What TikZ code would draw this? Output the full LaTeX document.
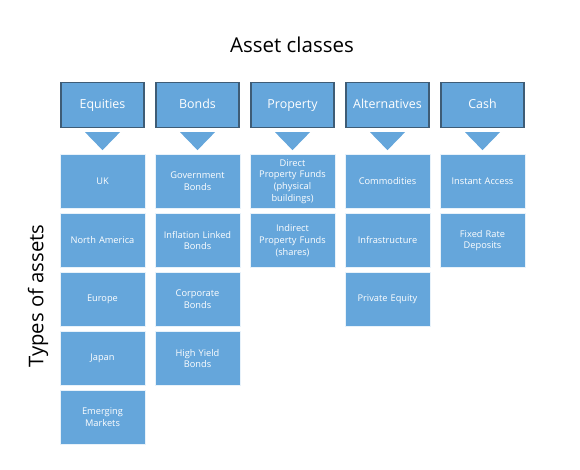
\documentclass[tikz,border=0pt]{standalone}
\usepackage{fontspec}
\setmainfont{Open Sans}
\usetikzlibrary{calc}

\definecolor{boxblue}{RGB}{101,166,219}
\definecolor{headline}{RGB}{62,92,118}

\tikzset{
  classbox/.style={draw=headline, line width=1.4pt, fill=boxblue, text=white,
    minimum width=2.5cm, minimum height=1.34cm, inner sep=0pt,
    text height=1.6ex, text depth=0.45ex,
    font=\fontsize{10.6}{12}\selectfont},
  assetbox/.style={draw=white!85!boxblue, line width=0.4pt, fill=boxblue, text=white,
    minimum width=2.55cm, minimum height=1.62cm, inner sep=0pt, align=center,
    text width=2.45cm, font=\fontsize{7.9}{10}\selectfont},
  pointer/.style={fill=boxblue}
}

\begin{document}
\begin{tikzpicture}[x=0.03cm,y=-0.03cm]

  \useasboundingbox (0,0) rectangle (580,470);

  % --- Titles ---
  \node[font=\fontsize{17.5}{20}\selectfont] (title) at (292,45) {Asset classes};
  \node[font=\fontsize{17.3}{20}\selectfont, rotate=90] (side) at (38,296) {Types of assets};

  % --- Asset classes ---
  \node[classbox] (eq)  at (102.5,105) {Equities};
  \node[classbox] (bo)  at (197.5,105) {Bonds};
  \node[classbox] (pr)  at (292.5,105) {Property};
  \node[classbox] (al)  at (387.5,105) {Alternatives};
  \node[classbox] (ca)  at (482.5,105) {Cash};

  % --- Pointers ---
  \foreach \c in {eq,bo,pr,al,ca}
    \fill[pointer] ($(\c.south)+(-17.5,4)$) -- ++(35,0) -- ++(-17.5,18) -- cycle;

  % --- Equities ---
  \node[assetbox] (eq1) at (102.5,181.5) {UK};
  \node[assetbox] (eq2) at (102.5,240.5) {North America};
  \node[assetbox] (eq3) at (102.5,299.5) {Europe};
  \node[assetbox] (eq4) at (102.5,358.5) {Japan};
  \node[assetbox] (eq5) at (102.5,417.5) {Emerging\\Markets};

  % --- Bonds ---
  \node[assetbox] (bo1) at (197.5,181.5) {Government\\Bonds};
  \node[assetbox] (bo2) at (197.5,240.5) {Inflation Linked\\Bonds};
  \node[assetbox] (bo3) at (197.5,299.5) {Corporate\\Bonds};
  \node[assetbox] (bo4) at (197.5,358.5) {High Yield\\Bonds};

  % --- Property ---
  \node[assetbox] (pr1) at (292.5,181.5) {Direct\\Property Funds\\(physical\\buildings)};
  \node[assetbox] (pr2) at (292.5,240.5) {Indirect\\Property Funds\\(shares)};

  % --- Alternatives ---
  \node[assetbox] (al1) at (387.5,181.5) {Commodities};
  \node[assetbox] (al2) at (387.5,240.5) {Infrastructure};
  \node[assetbox] (al3) at (387.5,299.5) {Private Equity};

  % --- Cash ---
  \node[assetbox] (ca1) at (482.5,181.5) {Instant Access};
  \node[assetbox] (ca2) at (482.5,240.5) {Fixed Rate\\Deposits};

\end{tikzpicture}
\end{document}
